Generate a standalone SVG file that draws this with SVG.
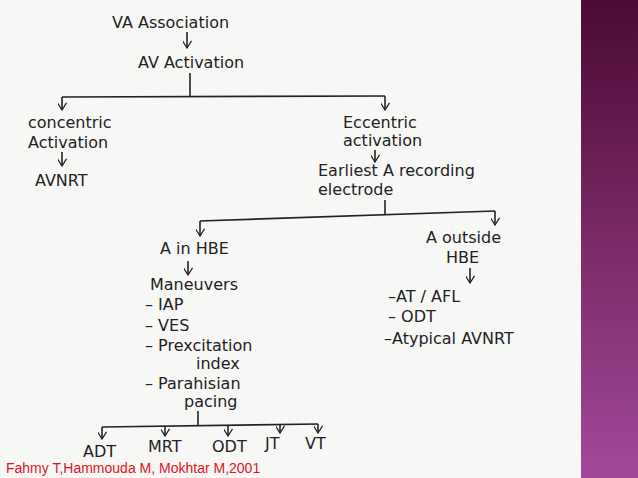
<svg xmlns="http://www.w3.org/2000/svg" width="638" height="478" viewBox="0 0 638 478">
<defs>
<linearGradient id="pg" x1="0" y1="0" x2="0" y2="1"><stop offset="0" stop-color="#4a0a34"/><stop offset="0.5" stop-color="#7a2a66"/><stop offset="1" stop-color="#a2489a"/></linearGradient>
<marker id="ah" viewBox="0 0 10 10" refX="9" refY="5" markerWidth="9" markerHeight="9" orient="auto" markerUnits="userSpaceOnUse"><path d="M1,0 L9,5 L1,10" fill="none" stroke="#222" stroke-width="1.4"/></marker>
<style>
text{font-family:"DejaVu Sans","Liberation Sans",sans-serif;font-size:16px;fill:#222}
.c line{stroke:#222;stroke-width:1.6}
.a{marker-end:url(#ah)}
.ft{font-family:"Liberation Sans",Arial,sans-serif;font-size:14px;fill:#e0141e}
</style>
</defs>
<rect width="638" height="478" fill="#f7f8f6"/>
<rect x="581" y="0" width="57" height="478" fill="url(#pg)"/>
<g class="c">
<line class="a" x1="187" y1="32" x2="187" y2="48"/>
<line x1="190" y1="73" x2="190" y2="97"/>
<line x1="62" y1="97" x2="385" y2="96"/>
<line class="a" x1="62" y1="97" x2="62" y2="110"/>
<line class="a" x1="385" y1="96" x2="385" y2="110"/>
<line class="a" x1="62" y1="152" x2="62" y2="166"/>
<line class="a" x1="375" y1="150" x2="375" y2="162"/>
<line x1="385" y1="200" x2="385" y2="214"/>
<line x1="200" y1="221" x2="495" y2="211"/>
<line class="a" x1="200" y1="221" x2="200" y2="236"/>
<line class="a" x1="495" y1="211" x2="495" y2="225"/>
<line class="a" x1="188" y1="261" x2="188" y2="275"/>
<line class="a" x1="470" y1="268" x2="470" y2="283"/>
<line x1="198" y1="411" x2="198" y2="425"/>
<line x1="102" y1="427" x2="318" y2="424"/>
<line class="a" x1="102" y1="427" x2="102" y2="439"/>
<line class="a" x1="165" y1="426" x2="165" y2="436"/>
<line class="a" x1="228" y1="425" x2="228" y2="436"/>
<line class="a" x1="280" y1="425" x2="280" y2="433"/>
<line class="a" x1="318" y1="424" x2="318" y2="433"/>
</g>
<g id="n1"><text x="112" y="28">VA Association</text></g>
<g id="n2"><text x="138" y="68">AV Activation</text></g>
<g id="n3"><text x="28" y="128">concentric</text><text x="28" y="148">Activation</text></g>
<g id="n4"><text x="35" y="186">AVNRT</text></g>
<g id="n5"><text x="343" y="128">Eccentric</text><text x="343" y="146">activation</text></g>
<g id="n6"><text x="318" y="176">Earliest A recording</text><text x="318" y="195">electrode</text></g>
<g id="n7"><text x="160" y="254">A in HBE</text></g>
<g id="n8"><text x="426" y="243">A outside</text><text x="446" y="263">HBE</text></g>
<g id="n9"><text x="150" y="290">Maneuvers</text><text x="145" y="310">– IAP</text><text x="145" y="331">– VES</text><text x="145" y="351">– Prexcitation</text><text x="196" y="369">index</text><text x="145" y="389">– Parahisian</text><text x="184" y="407">pacing</text></g>
<g id="n10"><text x="388" y="302">–AT / AFL</text><text x="388" y="322">– ODT</text><text x="384" y="344">–Atypical AVNRT</text></g>
<g id="n11"><text x="83" y="457">ADT</text><text x="148" y="452">MRT</text><text x="212" y="452">ODT</text><text x="265" y="449">JT</text><text x="305" y="449">VT</text></g>
<text class="ft" x="6" y="473">Fahmy T,Hammouda M, Mokhtar M,2001</text>
</svg>
